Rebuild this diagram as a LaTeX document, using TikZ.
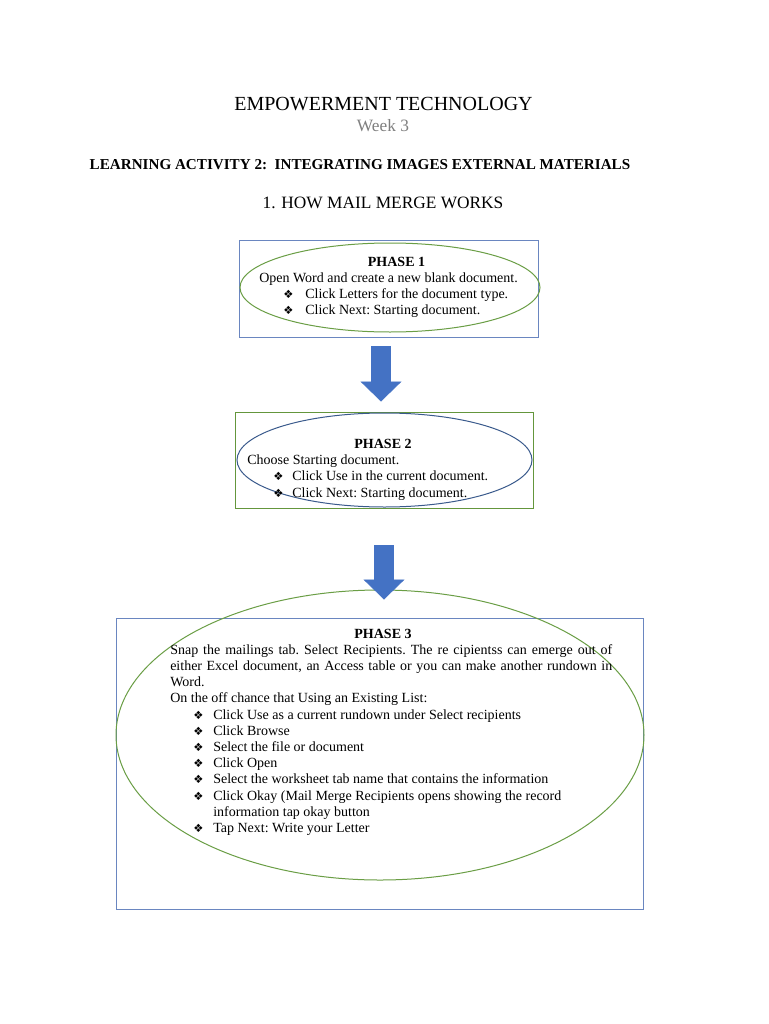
\documentclass[tikz,border=0pt]{standalone}
\usepackage{fontspec}
\setmainfont{Liberation Serif}
\newfontfamily\symfont{DejaVu Sans}
\usetikzlibrary{shapes.geometric,arrows.meta}

\newdimen\pxunit \pxunit=0.75pt
\newcommand{\bul}[1]{\makebox[#1\pxunit][l]{\symfont\fontsize{8.5}{8.5}\selectfont ❖}}

\definecolor{boxblue}{HTML}{6A86C0}
\definecolor{boxgreen}{HTML}{64963C}
\definecolor{ovalgreen}{HTML}{6A9E45}
\definecolor{ovalblue}{HTML}{3A5A8C}
\definecolor{arrowblue}{HTML}{4472C4}
\definecolor{arrowedge}{HTML}{3A60A8}
\definecolor{weekgray}{HTML}{808080}

\begin{document}
\begin{tikzpicture}[x=0.75pt,y=-0.75pt,
    bodytext/.style={anchor=base west,inner sep=0pt,font=\fontsize{10.5}{12}\selectfont},
    phase/.style={anchor=base,inner sep=0pt,font=\fontsize{10.5}{12}\selectfont\bfseries},
    frame/.style={draw,rectangle,line width=0.75pt,inner sep=0pt},
    oval/.style={draw,ellipse,line width=0.75pt,inner sep=0pt},
    blockarrow/.style={arrowblue,line width=15pt,
      -{Triangle[length=15pt,width=30.75pt,line width=0.5pt]}}]
  \useasboundingbox (0,0) rectangle (768,1024);
  \fill[white] (0,0) rectangle (768,1024);

  % headings
  \node[anchor=base,inner sep=0pt,font=\fontsize{15}{18}\selectfont] (title) at (383.5,110) {EMPOWERMENT TECHNOLOGY};
  \node[anchor=base,inner sep=0pt,text=weekgray,font=\fontsize{13}{15}\selectfont] (week) at (383,132) {Week 3};
  \node[anchor=base,inner sep=0pt,font=\fontsize{11.35}{13}\selectfont\bfseries] (activity) at (360,169) {LEARNING ACTIVITY 2:\ \ INTEGRATING IMAGES EXTERNAL MATERIALS};
  \node[anchor=base,inner sep=0pt,font=\fontsize{13}{15}\selectfont] (how) at (383,208) {1. HOW MAIL MERGE WORKS};

  % phase 1
  \node[frame,draw=boxblue,minimum width=224.25pt,minimum height=72.75pt] (box1) at (388.5,288.5) {};
  \node[oval,draw=ovalgreen,minimum width=225pt,minimum height=66.75pt] (ell1) at (390,287.5) {};
  \node[phase] (ph1) at (396.5,266) {PHASE 1};
  \node[bodytext] (ph1a) at (259,282) {Open Word and create a new blank document.};
  \node[bodytext] (ph1b) at (283,298) {\bul{22}Click Letters for the document type.};
  \node[bodytext] (ph1c) at (283,314) {\bul{22}Click Next:\ Starting document.};

  % phase 2
  \node[frame,draw=boxgreen,minimum width=223.5pt,minimum height=72pt] (box2) at (384,460) {};
  \node[oval,draw=ovalblue,minimum width=221.25pt,minimum height=70.5pt] (ell2) at (384.5,460) {};
  \node[phase] (ph2) at (383,448) {PHASE 2};
  \node[bodytext] (ph2a) at (247,464) {Choose Starting document.};
  \node[bodytext] (ph2b) at (273,480) {\bul{19}Click Use in the current document.};
  \node[bodytext] (ph2c) at (273,497) {\bul{19}Click Next:\ Starting document.};

  % phase 3
  \node[frame,draw=boxblue,minimum width=395.25pt,minimum height=218.25pt] (box3) at (379.5,763.5) {};
  \node[oval,draw=ovalgreen,minimum width=396pt,minimum height=217.5pt] (ell3) at (380,735) {};
  \node[phase] (ph3) at (383,638) {PHASE 3};
  \node[bodytext] (ph3a) at (170,654) {\makebox[331.5pt][s]{Snap the mailings tab.\ Select Recipients.\ The re cipientss can emerge out of}};
  \node[bodytext] (ph3b) at (170,670) {\makebox[331.5pt][s]{either Excel document, an Access table or you can make another rundown in}};
  \node[bodytext] (ph3c) at (170,686) {Word.};
  \node[bodytext] (ph3d) at (170,702) {On the off chance that Using an Existing List:};
  \foreach \yy/\txt [count=\i] in {719/{Click Use as a current rundown under Select recipients},
      735/{Click Browse}, 751/{Select the file or document}, 767/{Click Open},
      783/{Select the worksheet tab name that contains the information},
      800/{Click Okay (Mail Merge Recipients opens showing the record},
      832/{Tap Next:\ Write your Letter}}
    \node[bodytext] (ph3item\i) at (193,\yy) {\bul{20}\txt};
  \node[bodytext] (ph3cont) at (213,816) {information tap okay button};

  % arrows
  \coordinate (arr1) at (381,346);
  \coordinate (arr2) at (384,545);
  \draw[blockarrow,shorten >=7.5pt] (arr1) -- (arr1 |- box2.north);
  \draw[blockarrow,shorten >=13.5pt] (arr2) -- (arr2 |- box3.north);
\end{tikzpicture}
\end{document}
